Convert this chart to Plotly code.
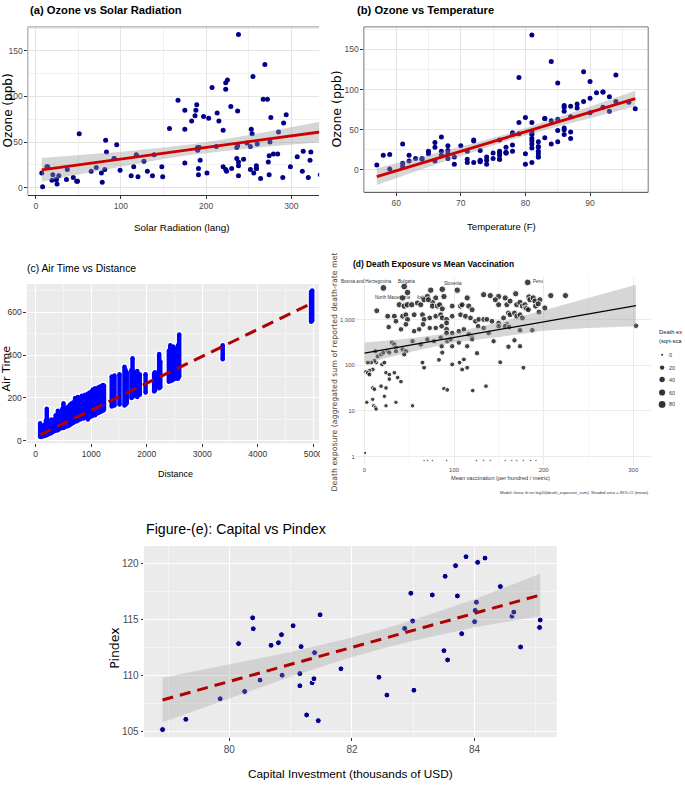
import numpy as np
import plotly.graph_objects as go

W, H = 685, 788

# ---------------- (a) / (b): daily air quality, None = missing ----------------
ozone = [41, 36, 12, 18, None, 28, 23, 19, 8, None,
         7, 16, 11, 14, 18, 14, 34, 6, 30, 11,
         1, 11, 4, 32, None, None, None, 23, 45, 115,
         37, None, None, None, None, None, None, 29, None, 71,
         39, None, None, 23, None, None, 21, 37, 20, 12,
         13, None, None, None, None, None, None, None, None, None,
         None, 135, 49, 32, None, 64, 40, 77, 97, 97,
         85, None, 10, 27, None, 7, 48, 35, 61, 79,
         63, 16, None, None, 80, 108, 20, 52, 82, 50,
         64, 59, 39, 9, 16, 78, 35, 66, 122, 89,
         110, None, None, 44, 28, 65, None, 22, 59, 23,
         31, 44, 21, 9, None, 45, 168, 73, None, 76,
         118, 84, 85, 96, 78, 73, 91, 47, 32, 20,
         23, 21, 24, 44, 21, 28, 9, 13, 46, 18,
         13, 24, 16, 13, 23, 36, 7, 14, 30, None,
         14, 18, 20]
solar = [190, 118, 149, 313, None, None, 299, 99, 19, 194,
         None, 256, 290, 274, 65, 334, 307, 78, 322, 44,
         8, 320, 25, 92, 66, 266, None, 13, 252, 223,
         279, 286, 287, 242, 186, 220, 264, 127, 273, 291,
         323, 259, 250, 148, 332, 322, 191, 284, 37, 120,
         137, 150, 59, 91, 250, 135, 127, 47, 98, 31,
         138, 269, 248, 236, 101, 175, 314, 276, 267, 272,
         175, 139, 264, 175, 291, 48, 260, 274, 285, 187,
         220, 7, 258, 295, 294, 223, 81, 82, 213, 275,
         253, 254, 83, 24, 77, None, None, None, 255, 229,
         207, 222, 137, 192, 273, 157, 64, 71, 51, 115,
         244, 190, 259, 36, 255, 212, 238, 215, 153, 203,
         225, 237, 188, 167, 197, 183, 189, 95, 92, 252,
         220, 230, 259, 236, 259, 238, 24, 112, 237, 224,
         27, 238, 201, 238, 14, 139, 49, 20, 193, 145,
         191, 131, 223]
temp = [67, 72, 74, 62, 56, 66, 65, 59, 61, 69,
        74, 69, 66, 68, 58, 64, 66, 57, 68, 62,
        59, 73, 61, 61, 57, 58, 57, 67, 81, 79,
        76, 78, 74, 67, 84, 85, 79, 82, 87, 90,
        87, 93, 92, 82, 80, 79, 77, 72, 65, 73,
        76, 77, 76, 76, 76, 75, 78, 73, 80, 77,
        83, 84, 85, 81, 84, 83, 83, 88, 92, 92,
        89, 82, 73, 81, 91, 80, 81, 82, 84, 87,
        85, 74, 81, 82, 86, 85, 82, 86, 88, 86,
        83, 81, 81, 81, 82, 86, 85, 87, 89, 90,
        90, 92, 86, 86, 82, 80, 79, 77, 79, 76,
        78, 78, 77, 72, 75, 79, 81, 86, 88, 97,
        94, 96, 94, 91, 92, 93, 93, 87, 84, 80,
        78, 75, 73, 81, 76, 77, 71, 71, 78, 67,
        76, 68, 82, 64, 71, 81, 69, 63, 70, 77,
        75, 76, 68]

# fitted line and 95% band
a_fit_x = [7, 334]
a_fit_y = [19.5, 61.1]
a_band_x = [7, 50, 100, 150, 185, 220, 270, 334]
a_band_lo = [6.5, 14.4, 23.3, 31.4, 36.3, 40.3, 44.9, 49.8]
a_band_hi = [32.5, 35.5, 39.4, 44.0, 48.0, 52.9, 61.0, 72.4]

b_fit_x = [57, 97]
b_fit_y = [-8.6, 88.6]
b_band_x = [57, 62, 67, 72, 77.9, 83, 88, 92, 97]
b_band_lo = [-19.1, -4.9, 9.1, 22.7, 37.8, 49.6, 60.4, 68.6, 78.8]
b_band_hi = [2.0, 12.1, 22.4, 33.0, 46.5, 59.5, 73.1, 84.3, 98.4]

# ---------------- (c): air time ranges per route distance ----------------
c_dist = [80, 95, 116, 143, 160, 185, 200, 215, 230, 265,
          280, 300, 335, 360, 400, 430, 480, 500, 530, 560,
          590, 620, 650, 680, 710, 740, 760, 800, 830, 860,
          890, 940, 970, 1010, 1030, 1070, 1090, 1130, 1170, 1210,
          1230, 1370, 1390, 1420, 1510, 1600, 1620, 1640, 1725, 1745,
          1795, 1830, 1875, 1980, 2135, 2150, 2225, 2245, 2400, 2425,
          2450, 2475, 2520, 2565, 2586, 3370, 4963, 4983]
c_air_lo = [20, 18, 22, 22, 25, 25, 28, 30, 32, 35,
            38, 40, 45, 48, 50, 55, 60, 60, 65, 68,
            70, 75, 80, 85, 90, 92, 95, 100, 105, 105,
            110, 100, 110, 115, 118, 120, 125, 130, 135, 140,
            145, 160, 165, 165, 170, 165, 170, 175, 200, 205,
            210, 205, 215, 225, 230, 235, 245, 250, 275, 280,
            280, 285, 290, 290, 300, 380, 555, 560]
c_air_hi = [82, 70, 65, 70, 75, 95, 150, 90, 80, 85,
            100, 95, 100, 120, 140, 130, 150, 175, 150, 155,
            160, 170, 175, 180, 200, 195, 205, 190, 210, 200,
            215, 220, 225, 230, 240, 245, 240, 250, 255, 260,
            258, 300, 298, 305, 310, 345, 330, 320, 330, 385,
            320, 325, 310, 310, 315, 320, 405, 370, 420, 445,
            430, 440, 430, 445, 495, 445, 695, 700]
c_fit_x = [80, 4983]
c_fit_y = [28, 642]

# ---------------- (d): death exposure vs vaccination ----------------
d_x = [21.1, 44.3, 48.0, 73.9, 86.8, 103.5, 88.7, 70.2, 79.5, 75.8,
       13.7, 42.5, 38.8, 44.3, 48.0, 52.8, 59.1, 62.8, 66.5, 71.3,
       75.8, 81.3, 83.9, 86.8, 97.9, 107.2, 114.6, 116.4, 120.1, 109.0,
       133.0, 140.4, 149.7, 146.0, 149.7, 25.9, 33.3, 35.1, 42.5, 46.2,
       48.0, 55.4, 64.7, 66.5, 72.8, 79.5, 85.0, 86.8, 91.6, 97.9,
       107.2, 112.7, 118.3, 123.8, 127.5, 133.0, 136.7, 142.3, 149.7, 27.0,
       40.7, 46.2, 55.4, 61.0, 65.4, 72.8, 79.5, 86.1, 91.6, 91.6,
       91.6, 97.9, 105.3, 110.9, 116.4, 120.1, 126.8, 133.0, 138.6, 144.1,
       149.7, 30.7, 33.3, 35.1, 42.5, 46.2, 53.6, 62.8, 70.2, 77.6,
       85.0, 86.1, 86.8, 92.4, 96.1, 97.9, 105.3, 114.6, 120.1, 125.6,
       12.2, 14.8, 18.5, 21.1, 25.9, 27.7, 35.1, 44.3, 12.9, 11.1,
       7.4, 3.7, 9.2, 5.5, 1.8, 3.7, 5.5, 19.6, 22.2, 64.7,
       66.5, 83.1, 97.9, 106.1, 110.9, 109.0, 114.6, 151.5, 24.0, 27.7,
       33.3, 27.7, 37.0, 40.7, 9.2, 11.1, 18.5, 24.0, 22.2, 88.7,
       92.4, 120.8, 135.6, 2.6, 9.2, 10.3, 12.2, 12.9, 24.0, 35.1,
       53.6, 0.7, 182.2, 157.0, 158.9, 162.5, 168.8, 169.9, 173.6, 176.2,
       179.2, 180.0, 183.6, 184.7, 188.4, 190.3, 191.0, 195.8, 194.0, 201.3,
       208.0, 224.3, 155.2, 158.9, 160.7, 162.5, 167.4, 169.9, 173.6, 176.2,
       181.0, 182.9, 194.7, 157.0, 161.4, 173.6, 187.3, 167.4, 160.7, 173.6,
       177.4, 303.0, 66.5, 70.2, 75.7, 91.6, 124.9, 133.0, 140.4, 157.0,
       164.4, 169.9, 177.3, 185.4, 191.4]
d_y = [5000, 5370, 3980, 4470, 4680, 4470, 3240, 3240, 3020, 2400,
       1580, 3020, 2140, 2000, 2140, 2140, 2340, 2140, 2750, 2750,
       2000, 2000, 2140, 1740, 2000, 2000, 3020, 2000, 1660, 2140,
       3550, 3390, 3240, 2750, 2140, 1200, 1200, 930, 1200, 1290,
       1020, 1290, 1290, 1020, 1100, 1200, 1290, 1100, 1020, 1200,
       1290, 1200, 1100, 930, 1020, 1020, 1020, 930, 850, 692,
       617, 794, 562, 617, 794, 661, 661, 724, 850, 617,
       513, 513, 562, 617, 479, 407, 724, 661, 513, 339,
       724, 316, 288, 245, 224, 204, 339, 288, 372, 339,
       407, 263, 191, 339, 372, 263, 316, 263, 372, 185,
       204, 158, 174, 191, 204, 191, 204, 174, 115, 126,
       115, 115, 81, 76, 72, 68, 63, 105, 115, 115,
       89, 132, 105, 115, 135, 81, 89, 117, 69, 63,
       69, 50, 54, 44, 32, 30, 35, 32, 21, 31,
       29, 28, 35, 15.5, 18, 13, 12, 11, 13, 15.5,
       13, 1.2, 6600, 3020, 2140, 2570, 3720, 2140, 2400, 2000,
       2140, 1820, 3160, 2750, 3020, 2570, 2000, 2750, 2240, 1820,
       3390, 3390, 1100, 794, 1410, 1290, 1410, 1200, 1290, 1100,
       1740, 1660, 1480, 724, 692, 589, 589, 355, 257, 263,
       89, 741, 0.82, 0.82, 0.82, 0.82, 0.82, 0.82, 0.82, 0.82,
       0.82, 0.82, 0.82, 0.82, 0.82]
d_s = [80, 80, 75, 70, 75, 70, 65, 65, 60, 60,
       55, 70, 65, 70, 70, 65, 60, 60, 65, 60,
       60, 60, 60, 60, 55, 60, 65, 65, 60, 55,
       65, 65, 65, 60, 60, 55, 55, 50, 55, 55,
       55, 55, 55, 55, 50, 50, 55, 55, 55, 50,
       50, 55, 50, 50, 50, 50, 50, 50, 50, 45,
       45, 50, 45, 45, 50, 45, 45, 50, 55, 55,
       50, 45, 45, 45, 45, 45, 45, 45, 45, 40,
       45, 40, 40, 40, 40, 40, 40, 40, 40, 40,
       40, 40, 35, 40, 40, 40, 40, 40, 40, 40,
       35, 35, 35, 35, 35, 35, 35, 35, 30, 30,
       30, 30, 30, 30, 30, 30, 30, 30, 30, 30,
       30, 30, 30, 30, 30, 30, 30, 30, 25, 25,
       25, 25, 25, 25, 25, 25, 25, 25, 20, 25,
       25, 25, 25, 20, 20, 20, 20, 20, 20, 20,
       20, 5, 80, 65, 60, 60, 65, 60, 65, 60,
       60, 60, 70, 65, 65, 65, 60, 60, 60, 60,
       65, 65, 55, 50, 55, 55, 55, 55, 55, 55,
       60, 55, 55, 50, 50, 45, 45, 40, 40, 40,
       30, 45, 0, 0, 0, 0, 0, 0, 0, 0,
       0, 0, 0, 0, 0]
d_fit_x = [0, 303]
d_fit_y = [186, 2042]
d_band_x = [0, 50, 100, 150, 200, 250, 303]
d_band_lo = [110, 195, 316, 417, 575, 661, 724]
d_band_hi = [316, 389, 525, 871, 1622, 3020, 5890]
d_lab_names = ["Bosnia and Herzegovina", "Bulgaria", "Slovenia", "North Macedonia", "Italy", "Peru"]
d_lab_x = [32.3, 34.6, 98.4, 31.4, 63.5, 185.5]
d_lab_y = [6760, 6760, 6400, 3160, 3160, 6760]
d_lab_anchor = ["right", "left", "center", "center", "center", "left"]
d_leg_vals = [0, 20, 40, 60, 80]

# ---------------- (e): capital vs pindex ----------------
e_cap = [78.91, 79.29, 79.85, 80.15, 80.25, 80.38, 80.39, 80.50, 80.68, 80.80,
         80.85, 80.86, 81.04, 81.15, 81.15, 81.17, 81.26, 81.35, 81.38, 81.39,
         81.45, 81.48, 81.82, 82.44, 82.57, 82.86, 82.96, 82.99, 83.01, 83.31,
         83.50, 83.52, 83.56, 83.69, 83.72, 83.79, 83.86, 84.00, 84.01, 84.03,
         84.05, 84.17, 84.42, 84.61, 84.64, 84.75, 85.06, 85.07]
e_pindex = [105.15, 106.07, 107.91, 112.85, 108.57, 115.16, 114.18, 109.58, 112.70, 112.93,
            113.65, 110.02, 114.45, 109.07, 110.17, 112.58, 106.46, 109.34, 109.70, 112.04,
            105.95, 115.43, 110.59, 109.84, 108.24, 114.21, 117.36, 114.87, 108.68, 117.21,
            112.22, 118.88, 111.39, 119.83, 117.12, 113.74, 120.63, 114.81, 115.82, 116.56,
            120.13, 120.51, 117.96, 115.31, 115.67, 112.55, 114.30, 114.96]
e_fit_x = [78.91, 85.07]
e_fit_y = [107.8, 117.2]
e_band_x = [78.91, 80, 81, 82, 82.5, 83, 84, 85.07]
e_band_lo = [105.8, 107.96, 109.89, 111.65, 112.42, 113.11, 114.32, 115.3]
e_band_hi = [109.8, 110.96, 112.09, 113.39, 114.14, 114.97, 116.82, 119.1]

SANS = "Liberation Sans, Arial, sans-serif"
WIDE = "DejaVu Sans, Verdana, sans-serif"
BAND = "rgba(153,153,153,0.4)"
NAVY = "#00008B"


def dom_x(a, b):
    return [a / W, b / W]


def dom_y(top, bottom):
    return [1 - bottom / H, 1 - top / H]


def band(x, lo, hi, xa, ya, color=BAND):
    return go.Scatter(x=list(x) + list(x)[::-1], y=list(hi) + list(lo)[::-1],
                      fill="toself", fillcolor=color, line=dict(width=0),
                      mode="lines", hoverinfo="skip", xaxis=xa, yaxis=ya)


def dot_size(v):
    return 2 + 4.8 * np.sqrt(np.asarray(v, dtype=float) / 80)


fig = go.Figure()

# (a)
a_x = [s for s, o in zip(solar, ozone) if s is not None and o is not None]
a_y = [o for s, o in zip(solar, ozone) if s is not None and o is not None]
fig.add_trace(go.Scatter(x=a_x, y=a_y, mode="markers", marker=dict(color=NAVY, size=5), xaxis="x", yaxis="y"))
fig.add_trace(band(a_band_x, a_band_lo, a_band_hi, "x", "y"))
fig.add_trace(go.Scatter(x=a_fit_x, y=a_fit_y, mode="lines", line=dict(color="#CC0000", width=2.8), xaxis="x", yaxis="y"))

# (b)
b_x = [t for t, o in zip(temp, ozone) if o is not None]
b_y = [o for o in ozone if o is not None]
fig.add_trace(go.Scatter(x=b_x, y=b_y, mode="markers", marker=dict(color=NAVY, size=5), xaxis="x2", yaxis="y2"))
fig.add_trace(band(b_band_x, b_band_lo, b_band_hi, "x2", "y2"))
fig.add_trace(go.Scatter(x=b_fit_x, y=b_fit_y, mode="lines", line=dict(color="#CC0000", width=2.8), xaxis="x2", yaxis="y2"))

# (c) vertical runs of overlapping points
seg_x, seg_y = [], []
for d, lo, hi in zip(c_dist, c_air_lo, c_air_hi):
    seg_x += [d, d, None]
    seg_y += [lo, hi, None]
fig.add_trace(go.Scatter(x=seg_x, y=seg_y, mode="lines+markers", line=dict(color="white", width=7),
                         marker=dict(color="white", size=7), xaxis="x3", yaxis="y3"))
fig.add_trace(go.Scatter(x=seg_x, y=seg_y, mode="lines+markers", line=dict(color="#0000FF", width=4.5),
                         marker=dict(color="#0000FF", size=4.5), xaxis="x3", yaxis="y3"))
fig.add_trace(go.Scatter(x=c_fit_x, y=c_fit_y, mode="lines", line=dict(color="#B00000", width=3, dash="12px,7px"),
                         xaxis="x3", yaxis="y3"))

# (d)
fig.add_trace(go.Scatter(x=d_x, y=d_y, mode="markers",
                         marker=dict(color="#1a1a1a", size=dot_size(d_s), opacity=0.82),
                         xaxis="x4", yaxis="y4"))
fig.add_trace(band(d_band_x, d_band_lo, d_band_hi, "x4", "y4", "rgba(153,153,153,0.4)"))
fig.add_trace(go.Scatter(x=d_fit_x, y=d_fit_y, mode="lines", line=dict(color="black", width=1.2), xaxis="x4", yaxis="y4"))

# (e)
fig.add_trace(go.Scatter(x=e_cap, y=e_pindex, mode="markers",
                         marker=dict(color=NAVY, size=6, line=dict(color="white", width=1)), xaxis="x5", yaxis="y5"))
fig.add_trace(band(e_band_x, e_band_lo, e_band_hi, "x5", "y5", "rgba(153,153,153,0.3)"))
fig.add_trace(go.Scatter(x=e_fit_x, y=e_fit_y, mode="lines", line=dict(color="#B00000", width=3, dash="11px,7px"),
                         xaxis="x5", yaxis="y5"))


def axis(dom, rng, ticks, minor, anchor, grid, mgrid, tsize, tcolor="#4D4D4D", tick_on=True, **kw):
    d = dict(domain=dom, range=rng, tickvals=ticks, anchor=anchor, showgrid=True, gridcolor=grid, gridwidth=1.1,
             zeroline=False, tickfont=dict(family=SANS, size=tsize, color=tcolor),
             minor=dict(tickvals=minor, showgrid=True, gridcolor=mgrid, gridwidth=0.6, ticks=""),
             ticks="outside" if tick_on else "", ticklen=2.5, tickcolor="#333333", tickwidth=1)
    d.update(kw)
    return d


fig.update_layout(
    width=W, height=H, margin=dict(l=0, r=0, t=0, b=0), showlegend=False,
    paper_bgcolor="white", plot_bgcolor="white",
    xaxis=axis(dom_x(28, 321), [-9.35, 332.7], [0, 100, 200, 300], [50, 150, 250], "y", "#E4E4E4", "#F0F0F0", 8.5,
               showline=True, linecolor="#333333", linewidth=1.2),
    yaxis=axis(dom_y(27, 196), [-8.4, 176.4], [0, 50, 100, 150], [25, 75, 125, 175], "x", "#E4E4E4", "#F0F0F0", 8.5),
    xaxis2=axis(dom_x(366, 652), [55, 99], [60, 70, 80, 90], [55, 65, 75, 85, 95], "y2", "#E4E4E4", "#F0F0F0", 8.5,
                showline=True, linecolor="#333333", linewidth=1.2),
    yaxis2=axis(dom_y(27, 193), [-28, 178], [0, 50, 100, 150], [-25, 25, 75, 125, 175], "x2", "#E4E4E4", "#F0F0F0", 8.5),
    xaxis3=axis(dom_x(27, 321), [-160, 5108], [0, 1000, 2000, 3000, 4000, 5000], [500, 1500, 2500, 3500, 4500],
                "y3", "white", "#F4F4F4", 8.5, "#333333"),
    yaxis3=axis(dom_y(285, 445), [-11, 731], [0, 200, 400, 600], [100, 300, 500, 700], "x3", "white", "#F4F4F4",
                8.5, "#333333"),
    xaxis4=axis(dom_x(358, 655), [-9.6, 320], [0, 100, 200, 300], [50, 150, 250], "y4", "#EBEBEB", "#F5F5F5", 6,
                tick_on=False),
    yaxis4=axis(dom_y(278, 467), [-0.19, 3.94], [1, 10, 100, 1000], [], "x4", "#EBEBEB", "#F5F5F5", 6,
                tick_on=False, type="log", ticktext=["1", "10", "100", "1,000"]),
    xaxis5=axis(dom_x(145, 560), [78.61, 85.34], [80, 82, 84], [79, 81, 83, 85], "y5", "white", "#F4F4F4", 10),
    yaxis5=axis(dom_y(548, 740), [104.47, 121.6], [105, 110, 115, 120], [107.5, 112.5, 117.5], "x5", "white",
                "#F4F4F4", 10),
)

shapes = []
for ax_id in ["3", "5"]:
    shapes.append(dict(type="rect", xref=f"x{ax_id} domain", yref=f"y{ax_id} domain", x0=0, x1=1, y0=0, y1=1,
                       fillcolor="#EBEBEB", line=dict(width=0), layer="below"))
# panel frames (a is cut at its right edge)
shapes.append(dict(type="line", xref="x domain", yref="y domain", x0=0, x1=1, y0=1, y1=1, line=dict(color="#999999", width=1)))
shapes.append(dict(type="line", xref="x domain", yref="y domain", x0=0, x1=0, y0=0, y1=1, line=dict(color="#999999", width=1)))
shapes.append(dict(type="rect", xref="x2 domain", yref="y2 domain", x0=0, x1=1, y0=0, y1=1, line=dict(color="#777777", width=1)))
# crop of (c) at the right edge
shapes.append(dict(type="rect", xref="paper", yref="paper", x0=322 / W, x1=334 / W, y0=1 - 490 / H, y1=1 - 280 / H,
                   fillcolor="white", line=dict(width=0), layer="above"))
# (d) size legend glyphs
leg_y = [356, 369, 381, 394, 406]
for v, py in zip(d_leg_vals, leg_y):
    r = float(dot_size(v)) / 2
    shapes.append(dict(type="circle", xref="paper", yref="paper", xsizemode="pixel", ysizemode="pixel",
                       xanchor=666 / W, yanchor=1 - py / H, x0=-r, x1=r, y0=-r, y1=r,
                       fillcolor="#333333", line=dict(width=0)))
fig.update_layout(shapes=shapes)


def note(text, px, py, size, family=SANS, color="black", xanchor="center", angle=0):
    return dict(text=text, x=px / W, y=1 - py / H, xref="paper", yref="paper", showarrow=False,
                font=dict(family=family, size=size, color=color), xanchor=xanchor, yanchor="middle",
                textangle=angle)


ann = [
    note("<b>(a) Ozone vs Solar Radiation</b>", 28, 10, 11.2, xanchor="left"),
    note("<b>(b) Ozone vs Temperature</b>", 357, 10, 11.2, xanchor="left"),
    note("(c) Air Time vs Distance", 25, 270, 10.4, xanchor="left"),
    note("<b>(d) Death Exposure vs Mean Vaccination</b>", 353, 265, 8.4, xanchor="left"),
    note("Figure-(e): Capital vs Pindex", 145, 531, 14.2, xanchor="left"),
    note("Solar Radiation (lang)", 183, 228, 9.9),
    note("Ozone (ppb)", 8, 111, 12, family=WIDE, angle=-90),
    note("Temperature (F)", 504, 227, 9.6),
    note("Ozone (ppb)", 339, 110, 12.5, family=WIDE, angle=-90),
    note("Distance", 177, 476, 9),
    note("Air Time", 7, 370, 11, family=WIDE, angle=-90),
    note("Mean vaccination (per hundred / metric)", 503, 480, 5.6, color="#333333"),
    note("Death exposure (aggregated sum of reported death-rate met", 337, 374, 7.8, family=WIDE,
         color="#444444", angle=-90),
    note("Model: linear fit on log10(death_exposure_sum). Shaded area = 95% CI (mean).", 655, 494, 4.2,
         color="#333333", xanchor="right"),
    note("Capital Investment (thousands of USD)", 353, 777, 11.8),
    note("Pindex", 115, 651, 12.5, family=WIDE, angle=-90),
    note("Death ex", 661, 333, 5.8, color="#222222", xanchor="left"),
    note("(sqrt-sca", 661, 342, 5.8, color="#222222", xanchor="left"),
]
for v, py in zip(d_leg_vals, leg_y):
    ann.append(note(str(v), 671, py, 5.4, color="#333333", xanchor="left"))
for name, lx, ly, anc in zip(d_lab_names, d_lab_x, d_lab_y, d_lab_anchor):
    ann.append(dict(text=name, x=lx, y=np.log10(ly), xref="x4", yref="y4", showarrow=False, xanchor=anc,
                    font=dict(family=SANS, size=4.6, color="#333333")))
fig.update_layout(annotations=ann)

fig.write_html("out.html", config={"displayModeBar": False},
               post_script="document.body.style.margin='0';document.body.style.overflow='hidden';")
